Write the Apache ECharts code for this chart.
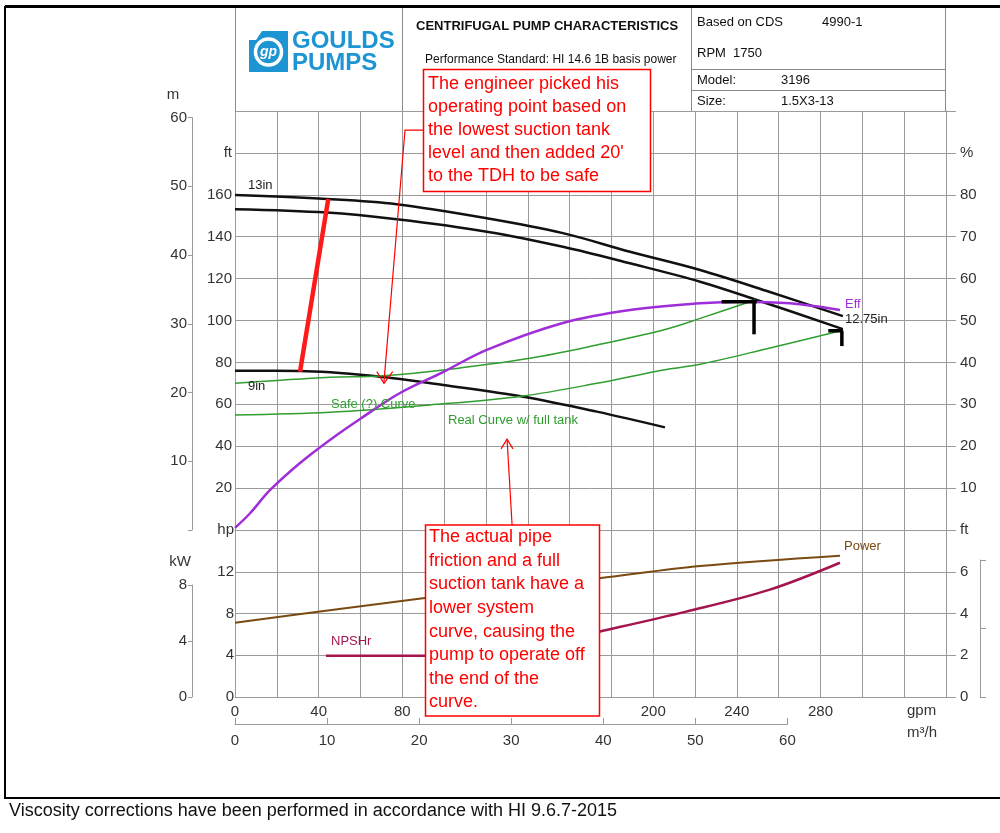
<!DOCTYPE html>
<html><head><meta charset="utf-8">
<script src="https://cdn.jsdelivr.net/npm/echarts@6/dist/echarts.min.js"></script>
<style>html,body{margin:0;padding:0;background:#fff}#c{width:1000px;height:833px}</style>
</head><body><div id="c"></div><script>
// ---------- data (gpm vs ft / % / hp) ----------
const q13   = [0, 43.9, 77.3, 120.4, 156.8, 188.9, 222.4, 255.8, 290.7];
const h13   = [159.9, 158.0, 155.5, 148.8, 141.7, 132.8, 124.1, 113.6, 102.1];
const q1275 = [0, 43.9, 77.3, 120.4, 156.8, 188.9, 222.4, 249.5, 290.7];
const h1275 = [153.1, 151.5, 148.3, 142.4, 135.2, 127.3, 118.5, 109.8, 95.9];
const q9    = [0, 31.1, 69.3, 99.6, 137.9, 173.0, 205.6];
const h9    = [76.0, 75.9, 73.2, 69.2, 63.6, 56.5, 49.0];
const qSafe = [0, 45.4, 69.3, 99.6, 141.1, 173.0, 204.8, 222.4, 248.7];
const hSafe = [70.0, 72.9, 73.5, 76.4, 82.0, 88.3, 95.5, 101.0, 109.8];
const qReal = [0, 45.4, 93.2, 137.9, 173.0, 204.8, 222.4, 255.8, 290.2];
const hReal = [54.9, 56.2, 59.7, 64.0, 70.0, 76.4, 79.1, 86.9, 95.2];
const qEff  = [0, 7.2, 16.7, 31.1, 45.4, 59.8, 78.9, 99.5, 120.4, 156.8, 188.9, 222.4, 241.5, 265.4, 289.3];
const eff   = [0.5, 4.0, 9.5, 16.0, 21.5, 26.5, 32.7, 37.7, 43.0, 49.4, 52.5, 54.1, 54.5, 54.1, 52.5];
const qPow  = [0, 39.7, 89.9, 174.1, 222.4, 289.3];
const power = [7.12, 8.17, 9.45, 11.37, 12.55, 13.54];
const qNpsh = [43.5, 89.9, 120, 150, 174.1, 215.7, 255.4, 289.3];
const npsh  = [1.98, 1.98, 2.1, 2.6, 3.13, 4.09, 5.13, 6.43];
// annotation marks (gpm, ft)
const redBar   = [[31.1, 75.6], [44.6, 158.0]];
const tee1H    = [[232.7, 109.0], [249.5, 109.0]];
const tee1V    = [[248.2, 109.0], [248.2, 93.4]];
const tee2H    = [[283.7, 95.1], [290.7, 95.1]];
const tee2V    = [[290.2, 95.1], [290.2, 87.8]];
const arrow1   = [[89.9, 190.9], [81.3, 190.9], [71.25, 70.8]];
const arrow1Hd = [[67.8, 75.6], [71.25, 70.0], [75.4, 75.6]];
const arrow2   = [[132.5, 2.4], [130.1, 43.4]];
const arrow2Hd = [[127.2, 38.7], [130.1, 43.4], [132.9, 38.7]];

const zip = (a, b) => a.map((v, i) => [v, b[i]]);
const FONT = '"Liberation Sans", Arial, sans-serif';
const GRID = '#9a9a9a', AX = '#9a9a9a', LBL = '#333';
const GREEN = '#2f9e2f', PURPLE = '#a02ed8', BROWN = '#7a4a12', MAROON = '#a3154f';

const hx = g => ({gridIndex: g, type: 'value', show: false, min: 0, max: 1});
const hy = g => ({gridIndex: g, type: 'value', show: false, min: 0, max: 1});
const lbl = (extra) => Object.assign({color: LBL, fontSize: 15, fontFamily: FONT}, extra);
const curve = (name, xi, yi, data, color, width) => ({name, type: 'line', xAxisIndex: xi, yAxisIndex: yi,
  data, smooth: 0.35, symbol: 'none', lineStyle: {color, width}});
const seg = (coords, color, width) => ({coords, lineStyle: {color, width, opacity: 1}});

const option = {
  backgroundColor: '#fff',
  animation: false,
  grid: [
    {left: 235, top: 111, width: 711, height: 419},   // upper: ft / %
    {left: 235, top: 530, width: 711, height: 167},   // lower: hp / ft
    {left: 192, top: 117.6, width: 2, height: 412.4}, // m
    {left: 192, top: 585, width: 2, height: 112},     // kW
    {left: 235, top: 690, width: 552.4, height: 34},  // m3/h
    {left: 980, top: 560, width: 6, height: 137}      // NPSH m bracket
  ],
  xAxis: [
    {gridIndex: 0, type: 'value', min: 0, max: 340, interval: 20,
     axisLine: {show: true, lineStyle: {color: AX}}, axisTick: {show: false}, axisLabel: {show: false},
     splitLine: {show: true, lineStyle: {color: GRID, width: 1}}},
    {gridIndex: 1, type: 'value', min: 0, max: 340, interval: 20,
     axisLine: {show: true, lineStyle: {color: AX}}, axisTick: {show: false},
     axisLabel: lbl({margin: 7, formatter: v => (v % 40 === 0 && v <= 280) ? String(v) : ''}),
     splitLine: {show: true, lineStyle: {color: GRID, width: 1}}},
    hx(2), hx(3),
    {gridIndex: 4, type: 'value', min: 0, max: 60, interval: 10, position: 'bottom',
     axisLine: {show: true, lineStyle: {color: AX}},
     axisTick: {show: true, inside: true, length: 6, lineStyle: {color: AX}},
     axisLabel: lbl({margin: 9}), splitLine: {show: false}},
    hx(5)
  ],
  yAxis: [
    {gridIndex: 0, type: 'value', min: 0, max: 200, interval: 20, position: 'left',
     axisLine: {show: true, lineStyle: {color: AX}}, axisTick: {show: false},
     axisLabel: lbl({margin: 3, formatter: v => v === 180 ? 'ft' : (v === 0 || v === 200) ? '' : String(v)}),
     splitLine: {show: true, lineStyle: {color: GRID, width: 1}}},
    {gridIndex: 0, type: 'value', min: 0, max: 100, interval: 10, position: 'right',
     axisLine: {show: true, lineStyle: {color: AX}},
     axisTick: {show: true, length: 10, lineStyle: {color: AX}},
     axisLabel: lbl({margin: 14, formatter: v => v === 90 ? '%' : (v === 0 || v === 100) ? '' : String(v)}),
     splitLine: {show: false}},
    {gridIndex: 1, type: 'value', min: 0, max: 16, interval: 4, position: 'left',
     axisLine: {show: true, lineStyle: {color: AX}}, axisTick: {show: false},
     axisLabel: lbl({margin: 1, formatter: v => v === 16 ? 'hp' : String(v)}),
     splitLine: {show: true, lineStyle: {color: GRID, width: 1}}},
    {gridIndex: 1, type: 'value', min: 0, max: 8, interval: 2, position: 'right',
     axisLine: {show: true, lineStyle: {color: AX}},
     axisTick: {show: true, length: 10, lineStyle: {color: AX}},
     axisLabel: lbl({margin: 14, formatter: v => v === 8 ? 'ft' : String(v)}),
     splitLine: {show: false}},
    {gridIndex: 2, type: 'value', min: 0, max: 60, interval: 10, position: 'left',
     axisLine: {show: true, lineStyle: {color: AX}},
     axisTick: {show: true, length: 4, lineStyle: {color: AX}},
     axisLabel: lbl({margin: 5, formatter: v => v === 0 ? '' : String(v)}),
     splitLine: {show: false}},
    {gridIndex: 3, type: 'value', min: 0, max: 8, interval: 4, position: 'left',
     axisLine: {show: true, lineStyle: {color: AX}},
     axisTick: {show: true, length: 4, lineStyle: {color: AX}},
     axisLabel: lbl({margin: 5}), splitLine: {show: false}},
    hy(4),
    {gridIndex: 5, type: 'value', min: 0, max: 2, interval: 1, position: 'right',
     axisLine: {show: true, lineStyle: {color: AX}},
     axisTick: {show: true, length: 6, lineStyle: {color: AX}},
     axisLabel: {show: false}, splitLine: {show: false}}
  ],
  series: [
    curve('13in', 0, 0, zip(q13, h13), '#111', 2.5),
    curve('12.75in', 0, 0, zip(q1275, h1275), '#111', 2.5),
    curve('9in', 0, 0, zip(q9, h9), '#111', 2.5),
    curve('Safe (?) Curve', 0, 0, zip(qSafe, hSafe), GREEN, 1.5),
    curve('Real Curve w/ full tank', 0, 0, zip(qReal, hReal), GREEN, 1.5),
    curve('Eff', 0, 1, zip(qEff, eff), PURPLE, 2.5),
    curve('Power', 1, 2, zip(qPow, power), BROWN, 2),
    curve('NPSHr', 1, 3, zip(qNpsh, npsh), MAROON, 2.5),
    {type: 'lines', coordinateSystem: 'cartesian2d', xAxisIndex: 0, yAxisIndex: 0, polyline: true, z: 5,
     lineStyle: {opacity: 1},
     data: [
       seg(redBar, '#ff1a1a', 4.5),
       seg(tee1H, '#000', 3.5), seg(tee1V, '#000', 3.5),
       seg(tee2H, '#000', 3.5), seg(tee2V, '#000', 3.5),
       seg(arrow1, '#ff0000', 1.2), seg(arrow1Hd, '#ff0000', 1.2),
       seg(arrow2, '#ff0000', 1.2), seg(arrow2Hd, '#ff0000', 1.2)
     ]}
  ],
  graphic: {elements: []}
};

const G = option.graphic.elements;
const line = (x1, y1, x2, y2, stroke, w) => G.push({type: 'line', z: 50, silent: true,
  shape: {x1, y1, x2, y2}, style: {stroke, lineWidth: w}});
const text = (t, x, y, font, fill, extra) => G.push(Object.assign({type: 'text', z: 120, x, y, silent: true,
  style: Object.assign({text: t, font, fill, textAlign: 'left', align: 'left', textVerticalAlign: 'middle', verticalAlign: 'middle'}, extra || {})}));

// frame
line(5, 6.5, 1000, 6.5, '#000', 3);
line(5, 6, 5, 799, '#000', 2);
line(4, 798, 1000, 798, '#000', 2);
// header table
const HL = '#8a8a8a';
line(235.5, 8, 235.5, 111, HL, 1);
line(402.5, 8, 402.5, 111, HL, 1);
line(691.5, 8, 691.5, 111, HL, 1);
line(945.5, 8, 945.5, 111, HL, 1);
line(691, 69.5, 946, 69.5, HL, 1);
line(691, 90.5, 946, 90.5, HL, 1);
// logo
const BLUE = '#1d95d3';
G.push({type: 'rect', z: 60, shape: {x: 249, y: 31, width: 39, height: 41}, style: {fill: BLUE}});
G.push({type: 'circle', z: 61, shape: {cx: 268.5, cy: 52, r: 13}, style: {fill: 'none', stroke: '#fff', lineWidth: 3.5}});
G.push({type: 'polygon', z: 61, shape: {points: [[249, 31], [262, 31], [256, 40], [249, 40]]}, style: {fill: '#fff'}});
text('gp', 268.5, 52, 'italic bold 14px ' + FONT, '#fff', {textAlign: 'center', align: 'center'});
text('GOULDS', 292, 41, 'bold 24px ' + FONT, BLUE);
text('PUMPS', 292, 63, 'bold 24px ' + FONT, BLUE);
// header text
text('CENTRIFUGAL PUMP CHARACTERISTICS', 416, 26, 'bold 13px ' + FONT, '#111');
text('Performance Standard: HI 14.6 1B basis power', 425, 60, '12px ' + FONT, '#111');
text('Based on CDS', 697, 22, '13px ' + FONT, '#111');
text('4990-1', 822, 22, '13px ' + FONT, '#111');
text('RPM  1750', 697, 53, '13px ' + FONT, '#111');
text('Model:', 697, 80, '13px ' + FONT, '#111');
text('3196', 781, 80, '13px ' + FONT, '#111');
text('Size:', 697, 101, '13px ' + FONT, '#111');
text('1.5X3-13', 781, 101, '13px ' + FONT, '#111');
// unit labels
text('m', 173, 95, '15px ' + FONT, LBL, {textAlign: 'center', align: 'center'});
text('kW', 180, 562, '15px ' + FONT, LBL, {textAlign: 'center', align: 'center'});
text('gpm', 907, 711, '15px ' + FONT, LBL);
text('m³/h', 907, 733, '15px ' + FONT, LBL);
// curve labels
text('13in', 248, 185, '13px ' + FONT, '#222');
text('9in', 248, 386, '13px ' + FONT, '#222');
text('Safe (?) Curve', 331, 404, '13px ' + FONT, GREEN);
text('Real Curve w/ full tank', 448, 420, '13px ' + FONT, GREEN);
text('Eff', 845, 304, '13px ' + FONT, PURPLE);
text('12.75in', 845, 319, '13px ' + FONT, '#222');
text('Power', 844, 546, '13px ' + FONT, BROWN);
text('NPSHr', 331, 641, '13px ' + FONT, MAROON);
// annotation boxes
G.push({type: 'rect', z: 110, shape: {x: 423.5, y: 69.5, width: 227, height: 122}, style: {fill: '#fff', stroke: '#ff0000', lineWidth: 1.5}});
text('The engineer picked his\noperating point based on\nthe lowest suction tank\nlevel and then added 20\'\nto the TDH to be safe', 428, 72.5,
  '18px ' + FONT, '#ff0000', {textVerticalAlign: 'top', verticalAlign: 'top', lineHeight: 23});
G.push({type: 'rect', z: 110, shape: {x: 425.5, y: 525, width: 174, height: 191}, style: {fill: '#fff', stroke: '#ff0000', lineWidth: 1.5}});
text('The actual pipe\nfriction and a full\nsuction tank have a\nlower system\ncurve, causing the\npump to operate off\nthe end of the\ncurve.', 429, 525.5,
  '18px ' + FONT, '#ff0000', {textVerticalAlign: 'top', verticalAlign: 'top', lineHeight: 23.6});
// footnote
text('Viscosity corrections have been performed in accordance with HI 9.6.7-2015', 9, 811, '18px ' + FONT, '#111');

const chart = echarts.init(document.getElementById('c'));
chart.setOption(option);
</script></body></html>
